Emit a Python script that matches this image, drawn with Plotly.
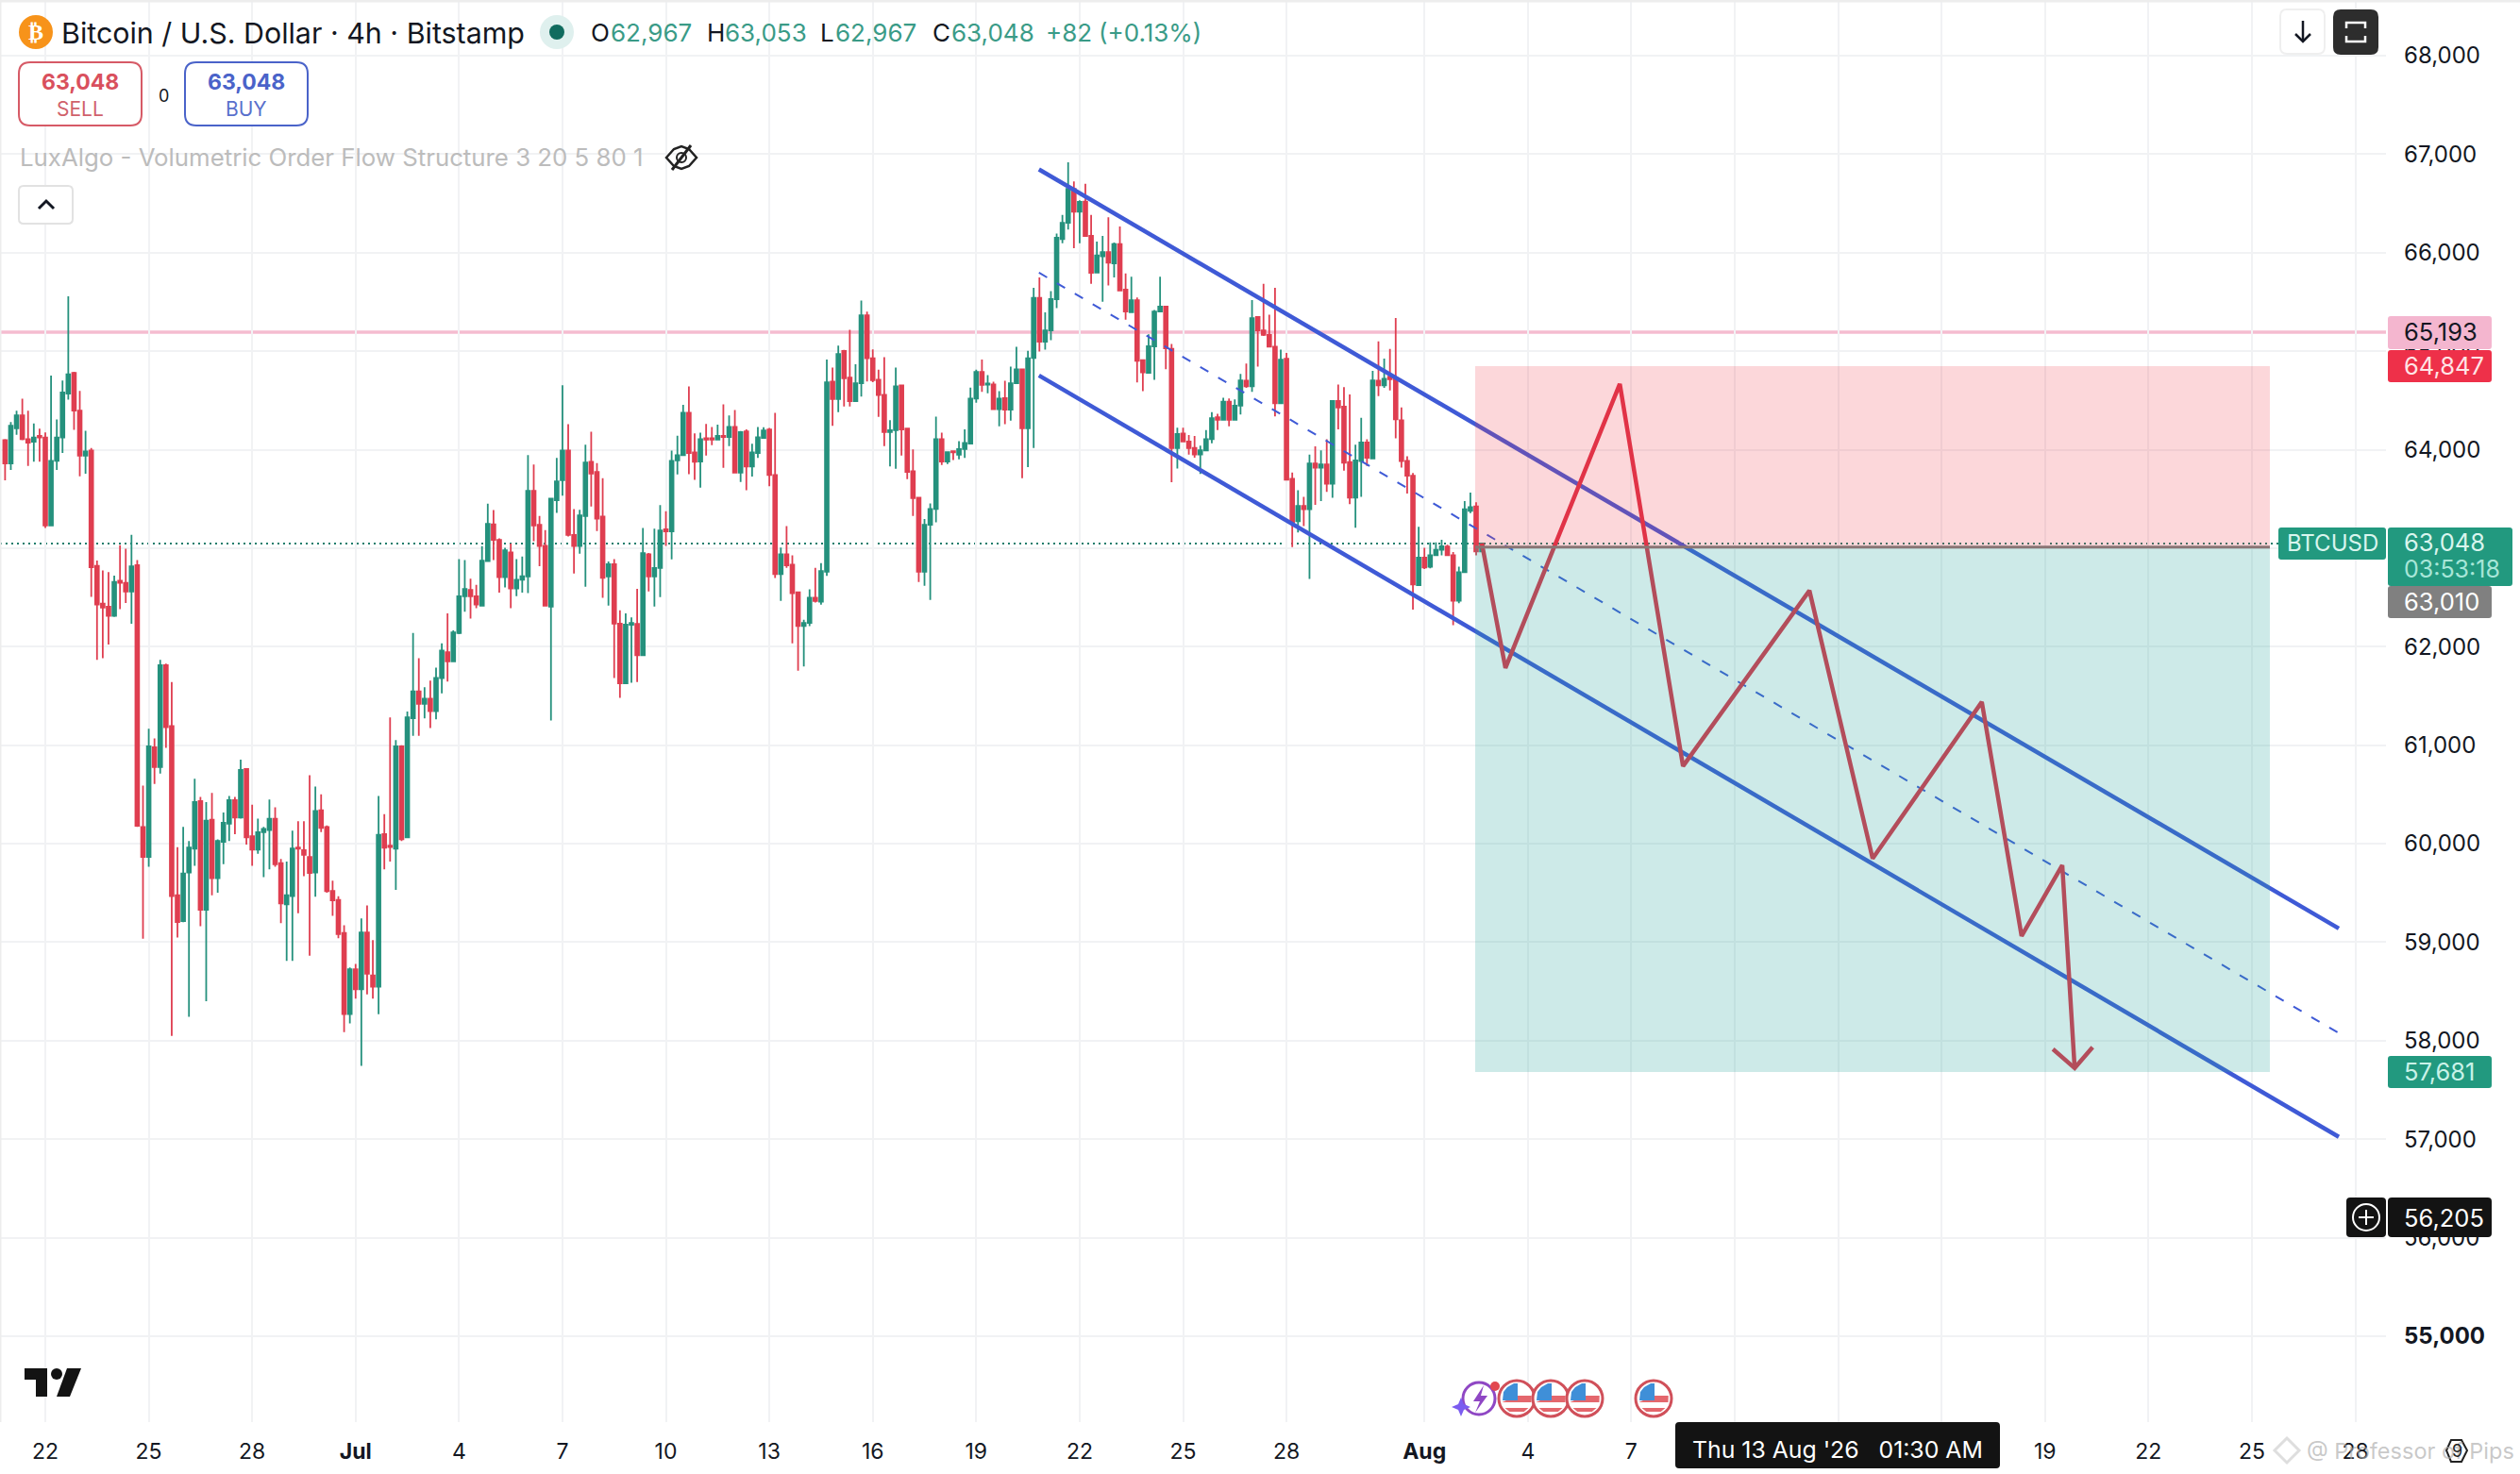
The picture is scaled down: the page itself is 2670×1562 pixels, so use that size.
import math
import pandas as pd
import plotly.graph_objects as go

# 4h candles
first_bar = "2026-06-20 20:00"
opens = [64097,63861,64218,64349,64107,64081,64139,64123,63231,63887,
64123,64570,64780,64396,63940,63992,62821,62438,62407,62312,
62669,62648,62559,62827,60170,59866,60979,60779,61813,61194,
59477,59215,59708,59950,60433,59330,60244,59650,60018,60202,
60443,60265,60758,60076,59939,60117,60138,60254,59803,59383,
59467,59960,59934,59866,59708,60338,60170,59519,59430,59094,
58270,58726,58522,59099,58663,58548,60097,59981,59950,60989,
60065,61273,61546,61420,61472,61346,61682,61945,61850,62139,
62512,62575,62512,62417,62869,63241,63084,62706,62958,62590,
62680,62714,63582,63237,63023,62407,63486,63691,63991,63135,
63023,63327,63876,63774,63320,62714,62838,62234,61628,62222,
62231,61912,62937,62714,62800,63192,63170,63892,63943,64374,
63972,63879,64115,64115,64103,64141,64128,64230,63767,64186,
63828,63965,64118,64205,63742,62736,62937,62832,62551,62209,
62241,62496,62458,62761,64690,64514,65003,64731,64492,64674,
65364,64929,64709,64556,64179,64198,64652,64214,63780,63512,
62761,63237,63397,64106,63879,63984,63949,64007,64061,64518,
64789,64661,64661,64412,64524,64406,64674,64815,64217,64931,
65541,65096,65211,65528,66138,66303,66647,66416,66518,66171,
65798,65963,66006,65891,66086,65624,65396,65518,64908,64779,
65049,65402,65452,65023,64017,64165,64082,64017,63951,63993,
64106,64330,64304,64488,64304,64446,64700,64644,65346,65211,
65165,65046,64472,64924,63703,63274,63429,63396,63861,63818,
63851,63654,64495,64436,63875,63512,63885,64073,63911,64700,
64653,64742,64726,64297,63885,63736,62624,62904,62812,62928,
62984,63017,62928,62466,62756,63380,63423,62967]
highs = [64107,64281,64396,64517,64396,64265,64213,64176,64753,64307,
64701,65557,64790,64596,64192,64018,62874,62774,62758,62722,
63031,62995,63136,62879,60590,61168,61068,61866,61829,61640,
59965,60170,60028,60658,60475,60422,60516,60044,60317,60485,
60475,60853,60763,60396,60254,60170,60448,60370,59845,59818,
60133,60228,60228,60695,60580,60501,60186,59624,59467,59173,
58742,58779,59241,59372,59020,60485,60301,61283,61052,61000,
61341,62139,61882,61588,61656,61787,62034,62338,62165,62890,
62879,62690,62627,63021,63451,63388,63100,63005,63047,62890,
62916,63946,63850,63327,63183,63502,63917,64655,64259,63397,
63390,64051,64182,63863,63710,62864,62889,62369,62337,62298,
62586,63205,62950,63199,63438,63375,63991,64141,64454,64642,
64166,64173,64262,64230,64253,64460,64348,64403,64189,64205,
64061,64230,64227,64221,64374,63007,63224,62927,62551,62273,
62583,62800,62848,64914,64834,65057,65013,65217,64866,65514,
65402,65019,64811,64939,64300,64834,64652,64221,64003,63512,
63295,63454,64336,64173,63981,63984,64087,64205,64629,64811,
64914,64757,64690,64594,64700,64843,65044,64815,65003,65643,
65749,65393,65610,66195,66383,66917,66723,66531,66699,66383,
66112,66171,66360,66102,66267,65789,65756,65544,64908,65171,
65419,65756,65452,65072,64224,64224,64148,64139,64040,64198,
64380,64363,64528,64521,64511,64769,64874,65518,65346,65683,
65370,65643,65016,64983,63769,63588,63522,63950,64033,63993,
64106,64502,64660,64634,64561,64050,64323,64106,64799,65099,
64924,65023,65336,64429,63934,63762,63218,63003,63060,63060,
63086,63036,62961,62812,63479,63564,63465,63053]
lows = [63688,63793,64150,64097,63835,63877,63877,63205,63231,63793,
63966,64507,64202,63730,63756,62506,61866,61882,62023,62302,
62380,62443,62233,60170,59036,59766,60606,60711,60973,58049,
59047,59204,58243,59776,59162,58401,59477,59503,59792,60028,
60097,60254,59992,59776,59897,59661,59740,59766,59194,58810,
58810,59293,59671,58863,59461,60117,59503,59267,59041,58086,
58175,58427,57745,58469,58427,58270,59740,59818,59530,60028,
60065,61094,61094,61273,61173,61262,61525,61645,61850,62128,
62354,62286,62391,62417,62869,62879,62548,62601,62391,62512,
62548,62544,63071,62816,62417,61251,63359,63534,63119,62742,
62943,62608,63422,63173,62496,62417,61682,61481,61628,61634,
61641,61912,62560,62407,62503,63023,62886,63748,63943,63751,
63694,63614,63940,64045,64099,63815,64035,63767,63671,63588,
63726,63917,64118,63630,62698,62464,62800,62033,61756,61800,
62209,62448,62426,62720,64243,64380,64438,64438,64492,64540,
64693,64684,64332,64035,63831,63805,63940,63700,63327,62656,
62618,62474,63263,63844,63853,63895,63901,63917,64061,64476,
64588,64572,64406,64237,64259,64294,64674,63710,63822,64017,
64997,65016,65112,65436,66096,66234,66046,66096,66162,65683,
65798,65502,65666,65749,65610,65320,65396,64683,64594,64779,
64710,65402,64818,63670,63809,64082,63951,63918,63753,63993,
64066,64198,64304,64238,64297,64356,64627,64587,64842,65155,
65046,64337,64472,63696,63010,63159,63224,62687,63439,63479,
63571,63512,64205,63786,63446,63208,63522,63835,63911,64544,
64627,64601,64116,63818,63555,62376,62624,62789,62796,62928,
62928,62928,62218,62442,62756,63356,62928,62967]
closes = [63861,64244,64349,64107,64071,64123,64123,63231,63887,64123,
64580,64764,64396,63940,63981,62806,62428,62396,62312,62658,
62648,62559,62816,60181,59866,60989,60779,61813,61183,59467,
59204,59698,59960,60422,59330,60233,59650,60028,60212,60443,
60265,60748,60065,59939,60117,60149,60254,59792,59393,59477,
59950,59950,59887,59703,60333,60160,59519,59425,59083,58270,
58726,58522,59099,58679,58548,60091,59960,59965,60989,60044,
61283,61546,61420,61472,61346,61682,61960,61850,62144,62512,
62585,62512,62428,62874,63247,63084,62706,62979,62590,62680,
62716,63582,63231,63023,62417,63502,63678,63991,63135,63023,
63333,63869,63758,63301,62698,62838,62234,61628,62225,62241,
61912,62950,62714,62800,63180,63170,63885,63943,64374,63965,
63876,64106,64103,64103,64141,64128,64230,63767,64179,63828,
63972,64125,64195,63742,62736,62937,62825,62544,62209,62241,
62496,62464,62768,64684,64514,64971,64725,64492,64674,65364,
64929,64706,64556,64179,64198,64642,64205,63774,63509,62761,
63237,63397,64106,63879,63975,63972,64007,64067,64518,64789,
64658,64671,64412,64518,64406,64674,64815,64217,64929,65541,
65096,65211,65528,66152,66303,66647,66416,66515,66168,65795,
65973,66006,65898,66086,65617,65402,65518,64901,64785,65049,
65402,65452,65030,64017,64158,64082,64017,63951,63993,64106,
64320,64304,64488,64304,64446,64703,64644,65336,65211,65165,
65046,64472,64914,63696,63264,63429,63396,63861,63818,63851,
63654,64495,64429,63868,63512,63891,64073,63918,64703,64653,
64719,64716,64307,63885,63736,62631,62904,62805,62928,62984,
63020,62928,62466,62756,63396,63416,62967,63048]
assert len(opens) == len(highs) == len(lows) == len(closes) == 258

# axes
x_ticks = ["2026-06-22","2026-06-25","2026-06-28","2026-07-01","2026-07-04","2026-07-07","2026-07-10",
           "2026-07-13","2026-07-16","2026-07-19","2026-07-22","2026-07-25","2026-07-28","2026-08-01",
           "2026-08-04","2026-08-07","2026-08-10","2026-08-13","2026-08-16","2026-08-19","2026-08-22",
           "2026-08-25","2026-08-28"]
x_labels = ["22","25","28","<b>Jul</b>","4","7","10","13","16","19","22","25","28","<b>Aug</b>",
            "4","7","10","13","16","19","22","25","28"]
y_ticks = [55000,56000,57000,58000,59000,60000,61000,62000,63000,64000,65000,66000,67000,68000]
x_range = ["2026-06-20 16:28","2026-08-28 21:20"]
y_range = [54128,68565]

# price levels and drawings
resistance = 65193
last_price = 63048
entry = 63010
stop = 64847
target = 57681
box_start = "2026-08-02 11:20"
box_end = "2026-08-25 12:30"
channel_x = ["2026-07-20 19:40","2026-08-27 12:30"]
channel_up = [66845,59140]
channel_mid = [65797,58077]
channel_low = [64753,57023]
path_x = ["2026-08-02 16:00","2026-08-03 08:24","2026-08-06 16:00","2026-08-08 12:00","2026-08-12 04:00",
          "2026-08-14 00:00","2026-08-17 04:00","2026-08-18 07:41","2026-08-19 12:00","2026-08-19 20:38"]
path_y = [63048,61784,64667,60787,62569,59849,61439,59063,59782,57722]
arrow_x = ["2026-08-19 05:30","2026-08-19 20:38","2026-08-20 09:07"]
arrow_y = [57914,57722,57933]

FONT = "Inter"
GREEN = "#25917d"
RED = "#df3e50"
BLUE = "#3f5ad6"
TAG_GREEN = "#22997f"
PW, PH = 2528, 1507


def X(px):
    return px / PW


def Y(py):
    return 1 - py / PH


def path_shape(points, fill=None, line=None, lw=0, closed=True):
    p = "M " + " L ".join(f"{X(a):.5f},{Y(b):.5f}" for a, b in points)
    if closed:
        p += " Z"
    fig.add_shape(type="path", path=p, xref="paper", yref="paper", layer="above",
                  fillcolor=fill or "rgba(0,0,0,0)", line=dict(color=line or "rgba(0,0,0,0)", width=lw))


def rrect(x0, y0, x1, y1, r, fill=None, line=None, lw=0):
    a, b, c, d = X(x0), Y(y0), X(x1), Y(y1)
    rx, ry = r / PW, r / PH
    p = (f"M {a+rx:.5f},{b:.5f} L {c-rx:.5f},{b:.5f} Q {c:.5f},{b:.5f} {c:.5f},{b-ry:.5f} "
         f"L {c:.5f},{d+ry:.5f} Q {c:.5f},{d:.5f} {c-rx:.5f},{d:.5f} L {a+rx:.5f},{d:.5f} "
         f"Q {a:.5f},{d:.5f} {a:.5f},{d+ry:.5f} L {a:.5f},{b-ry:.5f} Q {a:.5f},{b:.5f} {a+rx:.5f},{b:.5f} Z")
    fig.add_shape(type="path", path=p, xref="paper", yref="paper", layer="above",
                  fillcolor=fill or "rgba(0,0,0,0)", line=dict(color=line or "rgba(0,0,0,0)", width=lw))


def circle(cx, cy, r, fill=None, line=None, lw=0):
    fig.add_shape(type="circle", xref="paper", yref="paper", layer="above",
                  x0=X(cx - r), x1=X(cx + r), y0=Y(cy + r), y1=Y(cy - r),
                  fillcolor=fill or "rgba(0,0,0,0)", line=dict(color=line or "rgba(0,0,0,0)", width=lw))


def label(px, py, text, size, color, anchor="left", family=FONT):
    fig.add_annotation(x=X(px), y=Y(py), xref="paper", yref="paper", text=text, showarrow=False,
                       xanchor=anchor, yanchor="middle", borderpad=0,
                       font=dict(family=family, size=size, color=color))


fig = go.Figure()
fig.add_trace(go.Candlestick(
    x=pd.date_range(first_bar, periods=len(opens), freq="4h"),
    open=opens, high=highs, low=lows, close=closes,
    increasing=dict(line=dict(color=GREEN, width=1.8), fillcolor=GREEN),
    decreasing=dict(line=dict(color=RED, width=1.8), fillcolor=RED),
    hoverinfo="skip", showlegend=False))

# channel
for vals, dash, w in [(channel_up, "solid", 4.5), (channel_low, "solid", 4.5), (channel_mid, "10px,12px", 2)]:
    fig.add_trace(go.Scatter(x=channel_x, y=vals, mode="lines", showlegend=False, hoverinfo="skip",
                             line=dict(color=BLUE, width=w, dash=dash)))
# projected path
for xs, ys in [(path_x, path_y), (arrow_x, arrow_y)]:
    fig.add_trace(go.Scatter(x=xs, y=ys, mode="lines", showlegend=False, hoverinfo="skip",
                             line=dict(color="#de3348", width=4.5, simplify=False)))

fig.update_layout(
    width=2670, height=1562,
    margin=dict(l=0, r=2670 - PW, t=0, b=1562 - PH, pad=0),
    paper_bgcolor="white", plot_bgcolor="white",
    boxgap=0.1,
    font=dict(family=FONT, color="#131722"),
    showlegend=False,
    xaxis=dict(type="date", range=x_range, rangeslider=dict(visible=False), tickvals=x_ticks, ticktext=x_labels,
               tickangle=0, showgrid=True, gridcolor="#f1f2f4", gridwidth=1.5, zeroline=False, showline=False,
               ticks="", ticklabelstandoff=15, tickfont=dict(family=FONT, size=23, color="#131722")),
    yaxis=dict(side="right", range=y_range, tickvals=y_ticks,
               ticktext=[f"<b>{v:,}</b>" if v == 55000 else f"{v:,}" for v in y_ticks],
               showgrid=True, gridcolor="#f1f2f4", gridwidth=1.5, zeroline=False, showline=False,
               ticks="", ticklabelstandoff=18, tickfont=dict(family=FONT, size=24, color="#131722")),
)

# levels under the candles
fig.add_hline(y=resistance, line=dict(color="#f5bcd0", width=3.5), layer="below")
fig.add_shape(type="line", xref="x", yref="y", x0=x_range[0], x1="2026-08-27 00:00", y0=last_price, y1=last_price,
              layer="below", line=dict(color="#1f7d6c", width=2, dash="2px,4px"))

# long / short boxes sit over everything
fig.add_shape(type="rect", xref="x", yref="y", x0=box_start, x1=box_end, y0=entry, y1=stop, layer="above",
              fillcolor="rgba(242,54,69,0.20)", line=dict(width=0))
fig.add_shape(type="rect", xref="x", yref="y", x0=box_start, x1=box_end, y0=target, y1=entry, layer="above",
              fillcolor="rgba(38,166,154,0.23)", line=dict(width=0))
fig.add_shape(type="line", xref="x", yref="y", x0=box_start, x1=box_end, y0=entry, y1=entry, layer="above",
              line=dict(color="#8a7474", width=3))

# page edge
path_shape([(0, 1507), (0, 1), (2670, 1)], line="#ededed", lw=3, closed=False)

# header
circle(38, 34, 18, fill="#f7931a")
label(38, 34, "<b>₿</b>", 24, "white", "center", "DejaVu Sans")
label(64, 35, "Bitcoin / U.S. Dollar · 4h · Bitstamp", 30.4, "#131722")
circle(590, 34, 18, fill="#dff0ee")
circle(590, 34, 8, fill="#106b5e")
ohlc_green = "#3a9b87"
for px, t, c in [(625, "O", "#131722"), (646, "62,967", ohlc_green), (748, "H", "#131722"), (767, "63,053", ohlc_green),
                 (868, "L", "#131722"), (884, "62,967", ohlc_green), (987, "C", "#131722"), (1007, "63,048", ohlc_green),
                 (1107, "+82", ohlc_green), (1163, "(+0.13%)", ohlc_green)]:
    label(px, 35, t, 26, c)

# buy / sell
rrect(20, 66, 150, 133, 12, fill="white", line="#d65a66", lw=2)
label(85, 87, "<b>63,048</b>", 23, "#d9505d", "center")
label(85, 115, "SELL", 21, "#d0616b", "center")
label(173, 101, "0", 18, "#131722", "center")
rrect(196, 66, 326, 133, 12, fill="white", line="#4a63c9", lw=2)
label(261, 87, "<b>63,048</b>", 23, "#4a63c9", "center")
label(261, 115, "BUY", 21, "#5a70cc", "center")
label(20, 167, "LuxAlgo - Volumetric Order Flow Structure 3 20 5 80 1", 25.8, "#bcbcbc")
# eye-off icon
path_shape([(706, 167), (714, 158), (722, 155), (730, 158), (738, 167), (730, 176), (722, 179), (714, 176)],
           line="#222222", lw=2.5)
path_shape([(712, 180), (732, 154)], line="#222222", lw=3, closed=False)
circle(722, 167, 5, line="#222222", lw=2)
rrect(20, 197, 77, 237, 5, fill="white", line="#e2e2e2", lw=2)
path_shape([(41, 221), (49, 213), (57, 221)], line="#131722", lw=3, closed=False)

# top right buttons
rrect(2416, 10, 2463, 57, 7, fill="white", line="#efefef", lw=2)
path_shape([(2440, 22), (2440, 44)], line="#131722", lw=2.5, closed=False)
path_shape([(2432, 36), (2440, 44), (2448, 36)], line="#131722", lw=2.5, closed=False)
rrect(2472, 10, 2520, 58, 8, fill="#2d2d2d")
path_shape([(2486, 30), (2486, 24), (2506, 24), (2506, 30)], line="white", lw=2.5, closed=False)
path_shape([(2486, 38), (2486, 44), (2506, 44), (2506, 38)], line="white", lw=2.5, closed=False)

# price tags
rrect(2530, 335, 2640, 370, 3, fill="#f4b6cf")
label(2546, 352, "65,193", 25.5, "#131722")
rrect(2530, 371, 2640, 405, 3, fill="#ee3049")
label(2546, 388, "64,847", 25.5, "#ffe4e6")
rrect(2414, 559, 2528, 593, 3, fill=TAG_GREEN)
label(2422, 576, "BTCUSD", 24, "#d9f5ee")
rrect(2530, 559, 2662, 621, 3, fill=TAG_GREEN)
label(2546, 574, "63,048", 25.5, "#d9f5ee")
label(2546, 603, "03:53:18", 25, "#a8e6d8")
rrect(2530, 621, 2640, 655, 3, fill="#808080")
label(2546, 638, "63,010", 25.5, "white")
rrect(2530, 1119, 2640, 1153, 3, fill=TAG_GREEN)
label(2546, 1135, "57,681", 25.5, "#c9f2e8")
rrect(2486, 1269, 2528, 1311, 4, fill="#131313")
circle(2507, 1290, 14, line="white", lw=2)
path_shape([(2499, 1290), (2515, 1290)], line="white", lw=2, closed=False)
path_shape([(2507, 1282), (2507, 1298)], line="white", lw=2, closed=False)
rrect(2530, 1269, 2640, 1311, 4, fill="#131313")
label(2546, 1290, "56,205", 25.5, "white")

# TradingView logo
path_shape([(26, 1450), (50, 1450), (50, 1480), (38, 1480), (38, 1462), (26, 1462)], fill="#131313")
circle(60, 1456, 6, fill="#131313")
path_shape([(71, 1450), (86, 1450), (74, 1480), (60, 1480)], fill="#131313")


def us_flag(cx, cy):
    r = 16
    circle(cx, cy, 19, fill="white", line="#d0505a", lw=3)
    for top, bot in [(-3, 4), (10, 14)]:
        pts = []
        for yy in (top, bot):
            half = math.sqrt(max(r * r - yy * yy, 0))
            pts.append((cx - half if yy > 3 else cx, cy + yy))
            pts.append((cx + half, cy + yy))
        path_shape([pts[0], pts[1], pts[3], pts[2]], fill="#e4676d")
    path_shape([(cx - 14, cy - 7), (cx - 10, cy - 12), (cx - 3, cy - 16), (cx + 1, cy - 16), (cx + 1, cy + 2),
                (cx - 15, cy + 2)], fill="#3f8fd8")


# calendar marks
circle(1567, 1482, 17, line="#8f47c4", lw=3)
path_shape([(1572, 1468), (1561, 1485), (1568, 1485), (1563, 1497), (1576, 1479), (1569, 1479)], fill="#8f47c4")
path_shape([(1548, 1481), (1551, 1488), (1558, 1491), (1551, 1494), (1548, 1501), (1545, 1494), (1538, 1491),
            (1545, 1488)], fill="#7b5cf0")
circle(1584, 1469, 5, fill="#e2474f")
for cx in (1607, 1643, 1679, 1752):
    us_flag(cx, 1482)

# crosshair time tag
rrect(1775, 1507, 2119, 1556, 4, fill="#131313")
label(1947, 1536, "Thu 13 Aug '26&nbsp;&nbsp;&nbsp;01:30 AM", 24.8, "white", "center")

# watermark
path_shape([(2423, 1524), (2436, 1537), (2423, 1550), (2410, 1537)], line="#dedede", lw=3)
label(2443, 1537, "@ Professor of Pips", 23.5, "rgba(170,170,170,0.65)")
path_shape([(2592, 1537), (2597, 1526), (2608, 1526), (2614, 1537), (2608, 1549), (2597, 1549)], line="#222222", lw=2)
label(2603, 1537, "9", 18, "#222222", "center")

fig.write_html("out.html", config={"displayModeBar": False},
               post_script="document.body.style.margin='0';document.documentElement.style.overflow='hidden';")
